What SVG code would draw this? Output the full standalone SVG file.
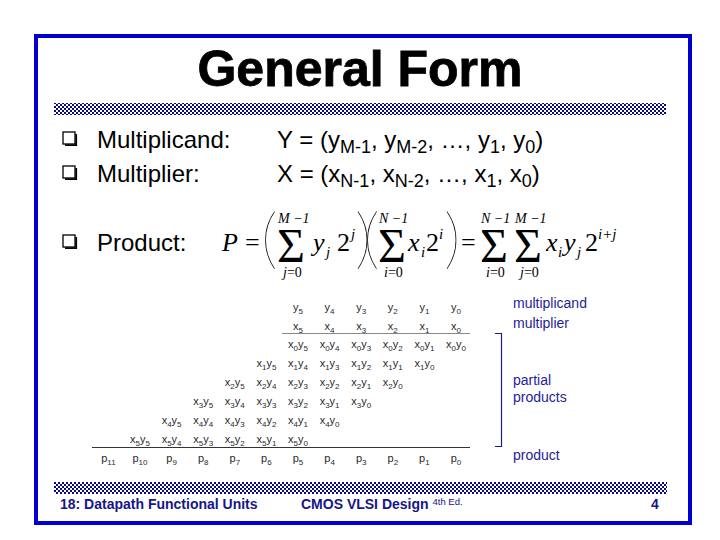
<svg xmlns="http://www.w3.org/2000/svg" width="720" height="540" viewBox="0 0 720 540">
<defs>
<pattern id="chk" width="4" height="4" patternUnits="userSpaceOnUse">
<rect width="4" height="4" fill="#ffffff"/>
<rect width="2" height="2" fill="#0a0a7a"/>
<rect x="2" y="2" width="2" height="2" fill="#0a0a7a"/>
</pattern>
<g id="bul">
<rect x="0" y="0" width="12" height="12" fill="none" stroke="#000" stroke-width="1.3"/>
<path d="M2 13.2 H13.2 V2" fill="none" stroke="#000" stroke-width="1.8"/>
</g>
</defs>
<style>
.t{font-family:"Liberation Sans",Arial,sans-serif;}
.bt{font-family:"Liberation Sans",Arial,sans-serif;font-size:24px;fill:#000;}
.m{font-family:"Liberation Serif","Times New Roman",serif;fill:#000;}
.mi{font-family:"Liberation Serif","Times New Roman",serif;font-style:italic;fill:#000;}
.n{font-style:normal;}
.pr{font-family:Lato,"DejaVu Sans",sans-serif;font-weight:100;font-size:66px;fill:#000;}
.tb{font-family:"Liberation Sans",Arial,sans-serif;font-size:11px;fill:#2a2a2a;text-anchor:middle;}
.lb{font-family:"Liberation Sans",Arial,sans-serif;font-size:14px;fill:#1e1e96;}
.ft{font-family:"Liberation Sans",Arial,sans-serif;font-size:14px;font-weight:bold;fill:#16168a;}
</style>
<rect width="720" height="540" fill="#fff"/>
<rect x="36" y="36" width="654" height="487" fill="none" stroke="#0000d0" stroke-width="4"/>
<rect x="54" y="103" width="612" height="12" fill="url(#chk)"/>
<rect x="54" y="482" width="613" height="12" fill="url(#chk)"/>

<text id="title" class="t" x="360" y="86" font-size="50" font-weight="bold" text-anchor="middle" stroke="#000" stroke-width="0.8">General Form</text>

<g id="bullets">
<use href="#bul" x="63" y="132"/>
<use href="#bul" x="63" y="166"/>
<use href="#bul" x="63" y="235"/>
<text class="bt" x="97" y="148">Multiplicand:</text>
<text class="bt" x="97" y="182">Multiplier:</text>
<text class="bt" x="97" y="251">Product:</text>
<text class="bt" x="277" y="148">Y = (y<tspan font-size="18" dy="5">M-1</tspan><tspan dy="-5">, y</tspan><tspan font-size="18" dy="5">M-2</tspan><tspan dy="-5">, …, y</tspan><tspan font-size="18" dy="5">1</tspan><tspan dy="-5">, y</tspan><tspan font-size="18" dy="5">0</tspan><tspan dy="-5">)</tspan></text>
<text class="bt" x="277" y="182">X = (x<tspan font-size="18" dy="5">N-1</tspan><tspan dy="-5">, x</tspan><tspan font-size="18" dy="5">N-2</tspan><tspan dy="-5">, …, x</tspan><tspan font-size="18" dy="5">1</tspan><tspan dy="-5">, x</tspan><tspan font-size="18" dy="5">0</tspan><tspan dy="-5">)</tspan></text>
</g>

<g id="formula">
<text class="mi" font-size="26"><tspan x="222" y="251">P</tspan><tspan class="n" x="245" y="251">=</tspan><tspan class="n" x="277" y="262" font-size="48">Σ</tspan><tspan x="278" y="223" font-size="14">M −1</tspan><tspan x="283" y="277" font-size="14">j<tspan class="n">=0</tspan></tspan><tspan x="313" y="251">y</tspan><tspan x="326" y="257" font-size="15">j</tspan><tspan class="n" x="337" y="251">2</tspan><tspan x="351" y="239" font-size="15">j</tspan></text>
<text class="mi" font-size="26"><tspan class="n" x="378" y="262" font-size="48">Σ</tspan><tspan x="379" y="223" font-size="14">N −1</tspan><tspan x="384" y="277" font-size="14">i<tspan class="n">=0</tspan></tspan><tspan x="408" y="251">x</tspan><tspan x="421" y="257" font-size="15">i</tspan><tspan class="n" x="426" y="251">2</tspan><tspan x="439" y="239" font-size="15">i</tspan></text>
<text class="mi" font-size="26"><tspan class="n" x="461" y="251">=</tspan><tspan class="n" x="480" y="262" font-size="48">Σ</tspan><tspan x="481" y="223" font-size="14">N −1</tspan><tspan x="486" y="277" font-size="14">i<tspan class="n">=0</tspan></tspan><tspan class="n" x="514" y="262" font-size="48">Σ</tspan><tspan x="515" y="223" font-size="14">M −1</tspan><tspan x="520" y="277" font-size="14">j<tspan class="n">=0</tspan></tspan><tspan x="546" y="251">x</tspan><tspan x="558" y="257" font-size="15">i</tspan><tspan x="564" y="251">y</tspan><tspan x="577" y="257" font-size="15">j</tspan><tspan class="n" x="585" y="251">2</tspan><tspan x="598" y="239" font-size="15">i+j</tspan></text>
<text class="pr" x="261" y="261">(</text>
<text class="pr" x="355" y="261">)</text>
<text class="pr" x="363" y="261">(</text>
<text class="pr" x="444" y="261">)</text>
</g>

<g id="table">
<text class="tb" y="311"><tspan x="298">y<tspan font-size="8" dy="3">5</tspan></tspan><tspan x="329.6" dy="-3">y<tspan font-size="8" dy="3">4</tspan></tspan><tspan x="361.2" dy="-3">y<tspan font-size="8" dy="3">3</tspan></tspan><tspan x="392.8" dy="-3">y<tspan font-size="8" dy="3">2</tspan></tspan><tspan x="424.4" dy="-3">y<tspan font-size="8" dy="3">1</tspan></tspan><tspan x="456" dy="-3">y<tspan font-size="8" dy="3">0</tspan></tspan></text>
<text class="tb" y="330"><tspan x="298">x<tspan font-size="8" dy="3">5</tspan></tspan><tspan x="329.6" dy="-3">x<tspan font-size="8" dy="3">4</tspan></tspan><tspan x="361.2" dy="-3">x<tspan font-size="8" dy="3">3</tspan></tspan><tspan x="392.8" dy="-3">x<tspan font-size="8" dy="3">2</tspan></tspan><tspan x="424.4" dy="-3">x<tspan font-size="8" dy="3">1</tspan></tspan><tspan x="456" dy="-3">x<tspan font-size="8" dy="3">0</tspan></tspan></text>
<line x1="282" y1="333.5" x2="470" y2="333.5" stroke="#8a8a8a" stroke-width="1"/>
<g id="pp0">
<text class="tb" x="298" y="348">x<tspan font-size="8" dy="3">0</tspan><tspan dy="-3">y</tspan><tspan font-size="8" dy="3">5</tspan></text>
<text class="tb" x="329.6" y="348">x<tspan font-size="8" dy="3">0</tspan><tspan dy="-3">y</tspan><tspan font-size="8" dy="3">4</tspan></text>
<text class="tb" x="361.2" y="348">x<tspan font-size="8" dy="3">0</tspan><tspan dy="-3">y</tspan><tspan font-size="8" dy="3">3</tspan></text>
<text class="tb" x="392.8" y="348">x<tspan font-size="8" dy="3">0</tspan><tspan dy="-3">y</tspan><tspan font-size="8" dy="3">2</tspan></text>
<text class="tb" x="424.4" y="348">x<tspan font-size="8" dy="3">0</tspan><tspan dy="-3">y</tspan><tspan font-size="8" dy="3">1</tspan></text>
<text class="tb" x="456" y="348">x<tspan font-size="8" dy="3">0</tspan><tspan dy="-3">y</tspan><tspan font-size="8" dy="3">0</tspan></text>
</g>
<g id="pp1">
<text class="tb" x="266.4" y="367">x<tspan font-size="8" dy="3">1</tspan><tspan dy="-3">y</tspan><tspan font-size="8" dy="3">5</tspan></text>
<text class="tb" x="298" y="367">x<tspan font-size="8" dy="3">1</tspan><tspan dy="-3">y</tspan><tspan font-size="8" dy="3">4</tspan></text>
<text class="tb" x="329.6" y="367">x<tspan font-size="8" dy="3">1</tspan><tspan dy="-3">y</tspan><tspan font-size="8" dy="3">3</tspan></text>
<text class="tb" x="361.2" y="367">x<tspan font-size="8" dy="3">1</tspan><tspan dy="-3">y</tspan><tspan font-size="8" dy="3">2</tspan></text>
<text class="tb" x="392.8" y="367">x<tspan font-size="8" dy="3">1</tspan><tspan dy="-3">y</tspan><tspan font-size="8" dy="3">1</tspan></text>
<text class="tb" x="424.4" y="367">x<tspan font-size="8" dy="3">1</tspan><tspan dy="-3">y</tspan><tspan font-size="8" dy="3">0</tspan></text>
</g>
<g id="pp2">
<text class="tb" x="234.8" y="386">x<tspan font-size="8" dy="3">2</tspan><tspan dy="-3">y</tspan><tspan font-size="8" dy="3">5</tspan></text>
<text class="tb" x="266.4" y="386">x<tspan font-size="8" dy="3">2</tspan><tspan dy="-3">y</tspan><tspan font-size="8" dy="3">4</tspan></text>
<text class="tb" x="298" y="386">x<tspan font-size="8" dy="3">2</tspan><tspan dy="-3">y</tspan><tspan font-size="8" dy="3">3</tspan></text>
<text class="tb" x="329.6" y="386">x<tspan font-size="8" dy="3">2</tspan><tspan dy="-3">y</tspan><tspan font-size="8" dy="3">2</tspan></text>
<text class="tb" x="361.2" y="386">x<tspan font-size="8" dy="3">2</tspan><tspan dy="-3">y</tspan><tspan font-size="8" dy="3">1</tspan></text>
<text class="tb" x="392.8" y="386">x<tspan font-size="8" dy="3">2</tspan><tspan dy="-3">y</tspan><tspan font-size="8" dy="3">0</tspan></text>
</g>
<g id="pp3">
<text class="tb" x="203.2" y="405">x<tspan font-size="8" dy="3">3</tspan><tspan dy="-3">y</tspan><tspan font-size="8" dy="3">5</tspan></text>
<text class="tb" x="234.8" y="405">x<tspan font-size="8" dy="3">3</tspan><tspan dy="-3">y</tspan><tspan font-size="8" dy="3">4</tspan></text>
<text class="tb" x="266.4" y="405">x<tspan font-size="8" dy="3">3</tspan><tspan dy="-3">y</tspan><tspan font-size="8" dy="3">3</tspan></text>
<text class="tb" x="298" y="405">x<tspan font-size="8" dy="3">3</tspan><tspan dy="-3">y</tspan><tspan font-size="8" dy="3">2</tspan></text>
<text class="tb" x="329.6" y="405">x<tspan font-size="8" dy="3">3</tspan><tspan dy="-3">y</tspan><tspan font-size="8" dy="3">1</tspan></text>
<text class="tb" x="361.2" y="405">x<tspan font-size="8" dy="3">3</tspan><tspan dy="-3">y</tspan><tspan font-size="8" dy="3">0</tspan></text>
</g>
<g id="pp4">
<text class="tb" x="171.6" y="424">x<tspan font-size="8" dy="3">4</tspan><tspan dy="-3">y</tspan><tspan font-size="8" dy="3">5</tspan></text>
<text class="tb" x="203.2" y="424">x<tspan font-size="8" dy="3">4</tspan><tspan dy="-3">y</tspan><tspan font-size="8" dy="3">4</tspan></text>
<text class="tb" x="234.8" y="424">x<tspan font-size="8" dy="3">4</tspan><tspan dy="-3">y</tspan><tspan font-size="8" dy="3">3</tspan></text>
<text class="tb" x="266.4" y="424">x<tspan font-size="8" dy="3">4</tspan><tspan dy="-3">y</tspan><tspan font-size="8" dy="3">2</tspan></text>
<text class="tb" x="298" y="424">x<tspan font-size="8" dy="3">4</tspan><tspan dy="-3">y</tspan><tspan font-size="8" dy="3">1</tspan></text>
<text class="tb" x="329.6" y="424">x<tspan font-size="8" dy="3">4</tspan><tspan dy="-3">y</tspan><tspan font-size="8" dy="3">0</tspan></text>
</g>
<g id="pp5">
<text class="tb" x="140" y="443">x<tspan font-size="8" dy="3">5</tspan><tspan dy="-3">y</tspan><tspan font-size="8" dy="3">5</tspan></text>
<text class="tb" x="171.6" y="443">x<tspan font-size="8" dy="3">5</tspan><tspan dy="-3">y</tspan><tspan font-size="8" dy="3">4</tspan></text>
<text class="tb" x="203.2" y="443">x<tspan font-size="8" dy="3">5</tspan><tspan dy="-3">y</tspan><tspan font-size="8" dy="3">3</tspan></text>
<text class="tb" x="234.8" y="443">x<tspan font-size="8" dy="3">5</tspan><tspan dy="-3">y</tspan><tspan font-size="8" dy="3">2</tspan></text>
<text class="tb" x="266.4" y="443">x<tspan font-size="8" dy="3">5</tspan><tspan dy="-3">y</tspan><tspan font-size="8" dy="3">1</tspan></text>
<text class="tb" x="298" y="443">x<tspan font-size="8" dy="3">5</tspan><tspan dy="-3">y</tspan><tspan font-size="8" dy="3">0</tspan></text>
</g>
<line x1="92" y1="447.5" x2="470" y2="447.5" stroke="#333" stroke-width="1"/>
<text class="tb" y="462"><tspan x="108.4">p<tspan font-size="8" dy="3">11</tspan></tspan><tspan x="140" dy="-3">p<tspan font-size="8" dy="3">10</tspan></tspan><tspan x="171.6" dy="-3">p<tspan font-size="8" dy="3">9</tspan></tspan><tspan x="203.2" dy="-3">p<tspan font-size="8" dy="3">8</tspan></tspan><tspan x="234.8" dy="-3">p<tspan font-size="8" dy="3">7</tspan></tspan><tspan x="266.4" dy="-3">p<tspan font-size="8" dy="3">6</tspan></tspan><tspan x="298" dy="-3">p<tspan font-size="8" dy="3">5</tspan></tspan><tspan x="329.6" dy="-3">p<tspan font-size="8" dy="3">4</tspan></tspan><tspan x="361.2" dy="-3">p<tspan font-size="8" dy="3">3</tspan></tspan><tspan x="392.8" dy="-3">p<tspan font-size="8" dy="3">2</tspan></tspan><tspan x="424.4" dy="-3">p<tspan font-size="8" dy="3">1</tspan></tspan><tspan x="456" dy="-3">p<tspan font-size="8" dy="3">0</tspan></tspan></text>
</g>

<g id="labels">
<path d="M495 333.5 H501.5 V446.5 H495" fill="none" stroke="#1e1e80" stroke-width="1.2"/>
<text class="lb" x="513" y="308">multiplicand</text>
<text class="lb" x="513" y="328">multiplier</text>
<text class="lb" x="513" y="385">partial</text>
<text class="lb" x="513" y="402">products</text>
<text class="lb" x="513" y="460">product</text>
</g>

<g id="footer">
<text class="ft" x="60" y="509">18: Datapath Functional Units</text>
<text class="ft" x="301" y="509">CMOS VLSI Design <tspan font-size="9.5" font-weight="normal" dy="-4">4th Ed.</tspan></text>
<text class="ft" x="651" y="509">4</text>
</g>
</svg>
